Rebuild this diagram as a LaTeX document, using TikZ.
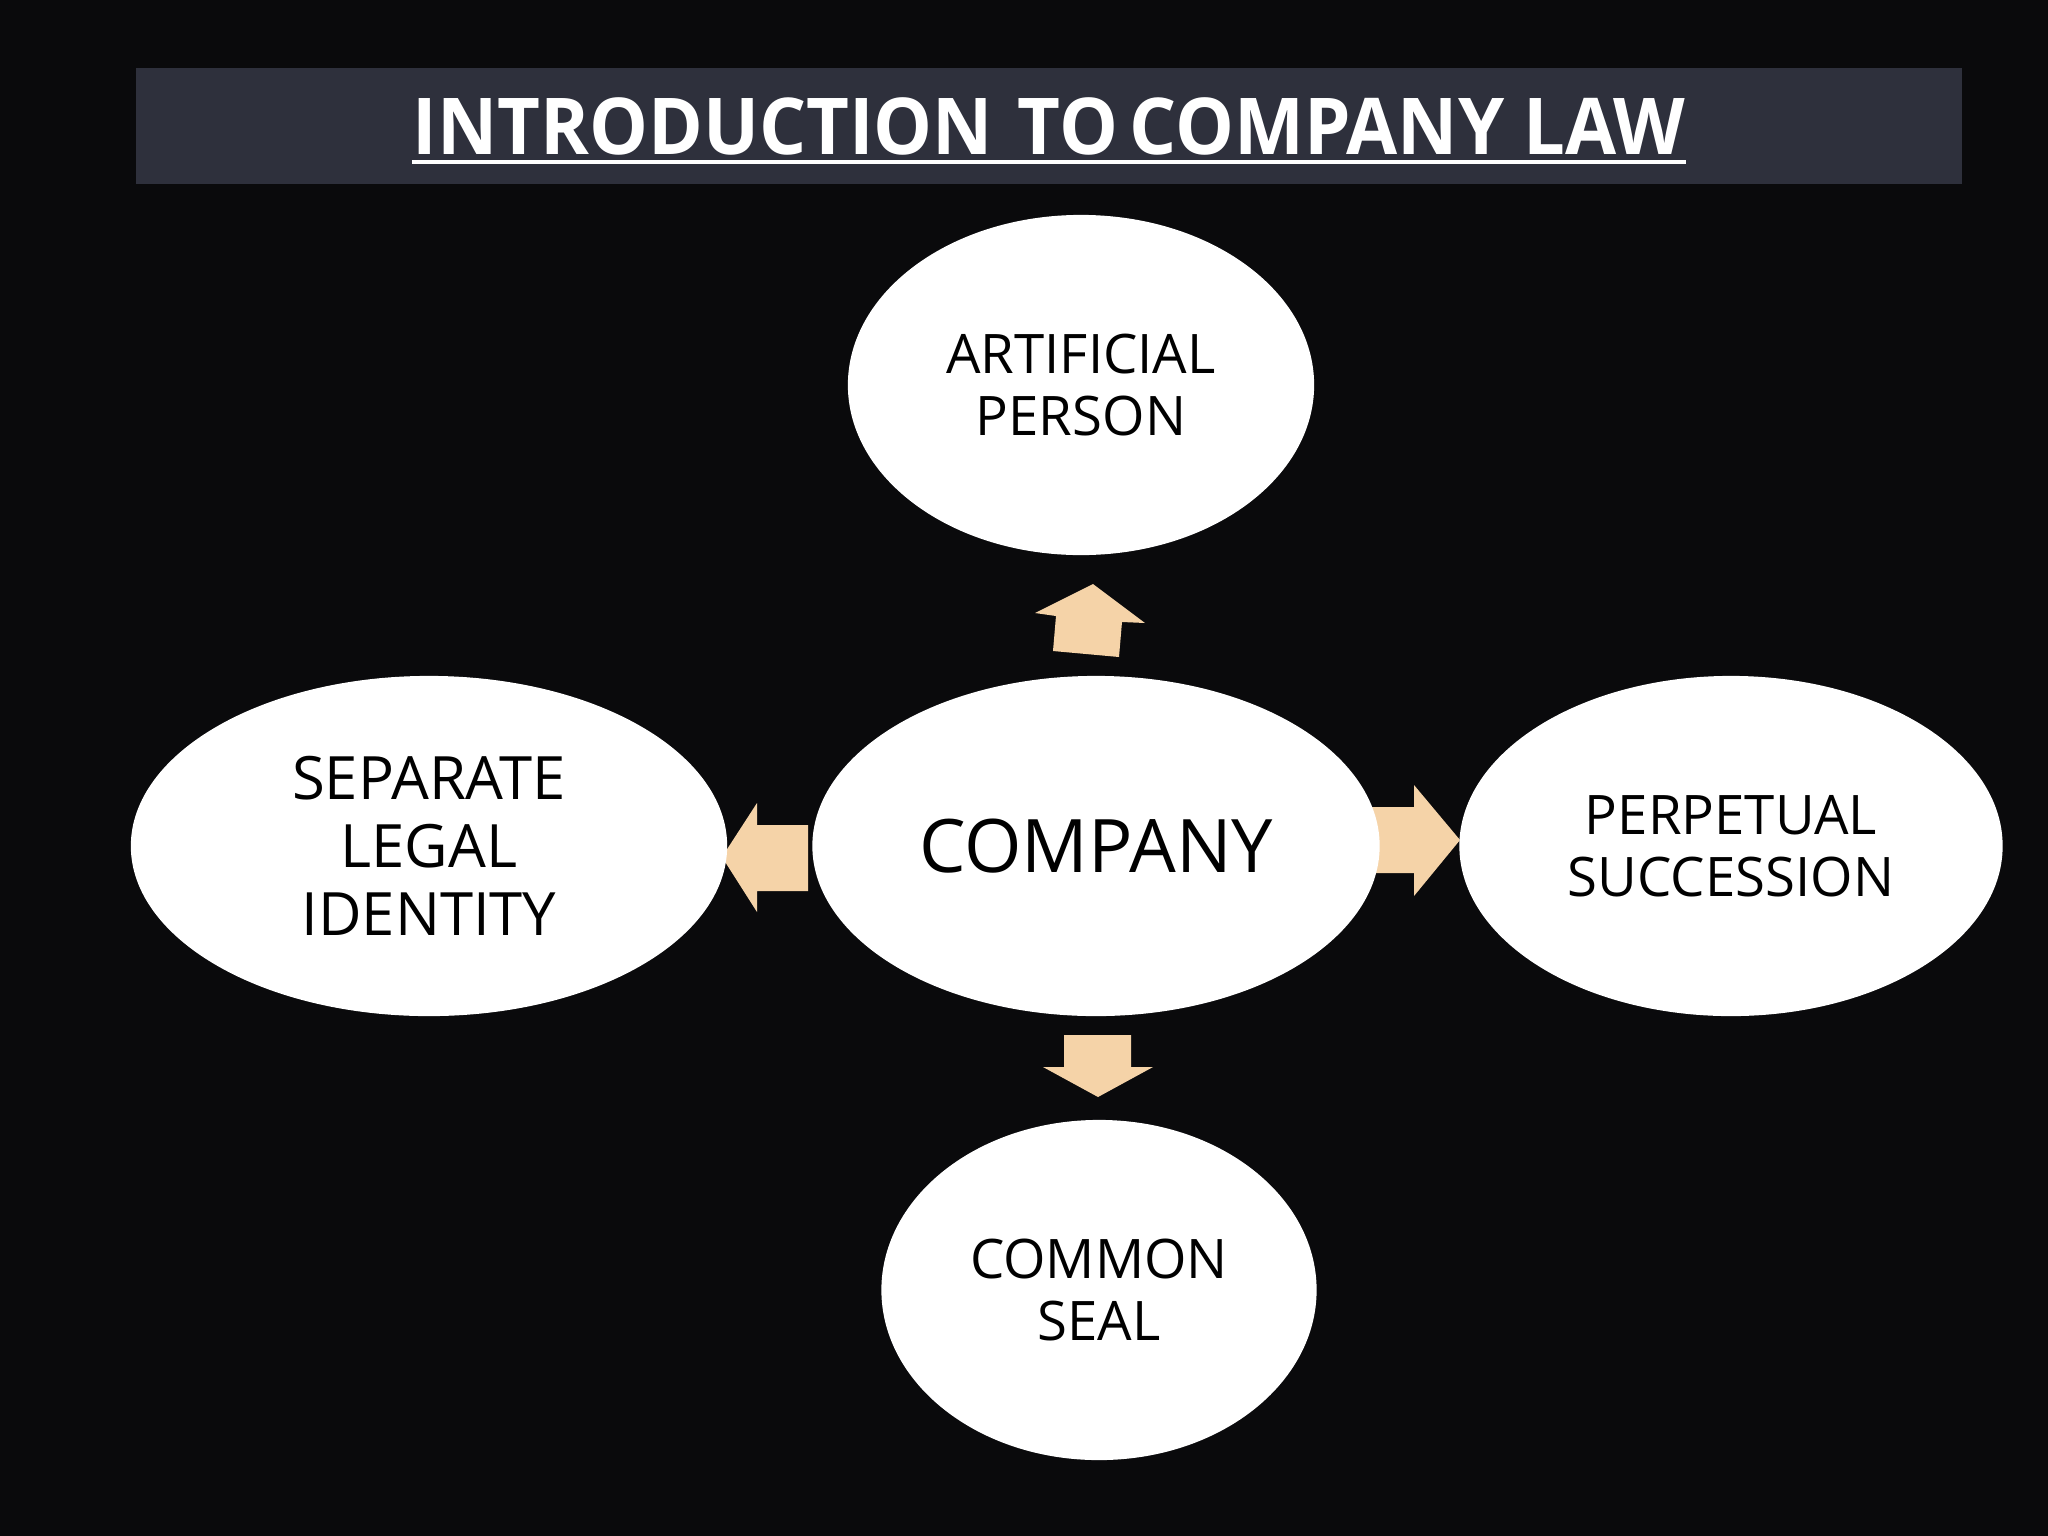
\documentclass[tikz,border=0pt]{standalone}
\usepackage{fontspec}
\setmainfont{Open Sans}
\newfontfamily\titlefont[FakeStretch=0.945]{Open Sans}
\usetikzlibrary{shapes.geometric}
\definecolor{bgdark}{RGB}{10,10,12}
\definecolor{band}{RGB}{46,48,60}
\definecolor{peach}{RGB}{245,211,168}

\begin{document}
\begin{tikzpicture}[x=0.01cm,y=-0.01cm,
    bubble/.style={ellipse,fill=white,inner sep=0pt,align=center,text=black,
      minimum height=3.4cm,font=\fontsize{15.5}{17.5}\selectfont},
    blockarrow/.style={fill=peach}]
    \fill[bgdark] (0,0) rectangle (2048,1536);
    \fill[band] (136,68) rectangle (1962,184);
    \node[inner sep=0pt,anchor=base,text=white,font=\titlefont\bfseries\fontsize{22.3}{24}\selectfont]
        (title) at (1049,154) {INTRODUCTION\hspace{0.32em}TO\hspace{0.14em}COMPANY LAW};
    \draw[white,line width=1.3pt] ([yshift=-2.3pt]title.base west)--([yshift=-2.3pt]title.base east);
    % arrows sit behind the bubbles
    \fill[blockarrow] (1035,613)--(1093,584)--(1145,623)--(1122,622)--(1119,657)--(1053,651)--(1056,616)--cycle;
    \fill[blockarrow] (722,857)--(757,803)--(757,825)--(808,825)--(808,891)--(757,891)--(757,912)--cycle;
    \fill[blockarrow] (1369,807)--(1414,807)--(1414,785)--(1460,840)--(1414,896)--(1414,873)--(1369,873)--cycle;
    \fill[blockarrow] (1064,1035)--(1131,1035)--(1131,1067)--(1153,1067)--(1098,1097)--(1043,1067)--(1064,1067)--cycle;
    \node[bubble,minimum width=5.67cm,font=\fontsize{21}{22}\selectfont] (company) at (1096,846) {COMPANY};
    \node[bubble,minimum width=4.66cm] (artificial) at (1081,385) {ARTIFICIAL\\PERSON};
    \node[bubble,minimum width=5.96cm,font=\fontsize{17}{19.3}\selectfont] (separate) at (429,846) {SEPARATE\\LEGAL\\IDENTITY};
    \node[bubble,minimum width=5.43cm] (perpetual) at (1731,846) {PERPETUAL\\SUCCESSION};
    \node[bubble,minimum width=4.35cm] (seal) at (1099,1290) {COMMON\\SEAL};
\end{tikzpicture}
\end{document}
